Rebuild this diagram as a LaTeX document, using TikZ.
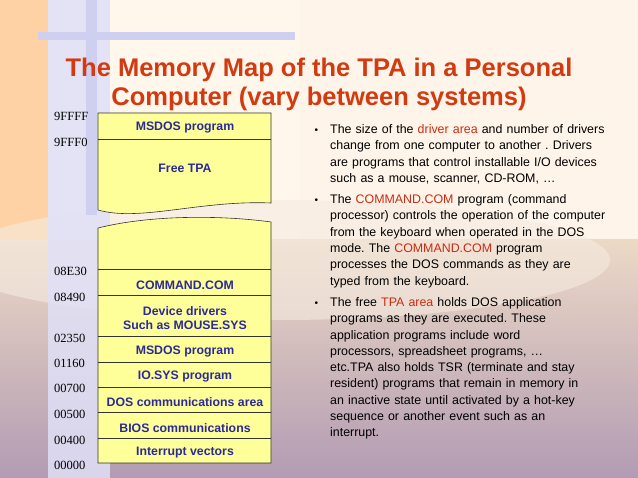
\documentclass[tikz,border=0pt]{standalone}
\usepackage{fontspec}
\setmainfont{Liberation Sans}
\newfontfamily\tms{Liberation Serif}
\definecolor{ttl}{HTML}{D23A10}
\definecolor{blu}{HTML}{2A2A9A}
\definecolor{hl}{HTML}{CC2A10}
\definecolor{boxy}{HTML}{FFFF99}
\begin{document}
\frenchspacing
\begin{tikzpicture}[x=1pt,y=-1pt,
  lab/.style={font=\bfseries\fontsize{12.3}{14.5}\selectfont,text=blu,align=center},
  adr/.style={font=\tms\fontsize{12.5}{13}\selectfont,anchor=west,inner sep=0pt},
  mem/.style={draw=black!80,fill=boxy,line width=0.6pt}]
\useasboundingbox (0,0) rectangle (638,478);
% background
\fill[white!85!orange!50] (0,0) rectangle (638,250);
\fill[orange!35!white] (0,0) rectangle (48,250);
\fill[white!75!orange!35] (300,0) rectangle (638,250);
\shade[top color=white!50!brown!60,bottom color=violet!30!gray!60] (0,240) rectangle (638,478);
\fill[white!60!brown!40,opacity=.6] (280,260) ellipse (330 and 60);
\fill[gray!40!blue!15,opacity=.85] (48,0) rectangle (110,478);
\fill[gray!50!blue!25] (86,0) rectangle (97,215);
\fill[gray!50!blue!25] (38,32) rectangle (295,40);
% title
\node[font=\bfseries\fontsize{25.5}{29}\selectfont,text=ttl,align=center] (title) at (319,84) {The Memory Map of the TPA in a Personal\\Computer (vary between systems)};
% memory map
\draw[mem] (98,210) .. controls (140,222) and (200,200) .. (271,203) -- (271,113) -- (98,113) -- cycle;
\draw[mem] (98,228) .. controls (150,215) and (220,215) .. (271,222) -- (271,463) -- (98,463) -- cycle;
\foreach \y in {139,269,295,336,362,387,412,438} \draw[black!80,line width=0.6pt] (98,\y) -- (271,\y);
\node[lab] (m1) at (185,128) {MSDOS program};
\node[lab] (m2) at (185,168) {Free TPA};
\node[lab] (m3) at (185,285) {COMMAND.COM};
\node[lab] (m4) at (185,318) {Device drivers\\Such as MOUSE.SYS};
\node[lab] (m5) at (185,352) {MSDOS program};
\node[lab] (m6) at (185,377) {IO.SYS program};
\node[lab] (m7) at (185,402) {DOS communications area};
\node[lab] (m8) at (185,428) {BIOS communications};
\node[lab] (m9) at (185,453) {Interrupt vectors};
\node[adr] (a1) at (54,116) {9FFFF};
\node[adr] (a2) at (54,142) {9FFF0};
\node[adr] (a3) at (54,271) {08E30};
\node[adr] (a4) at (54,297) {08490};
\node[adr] (a5) at (54,338) {02350};
\node[adr] (a6) at (54,363) {01160};
\node[adr] (a7) at (54,388) {00700};
\node[adr] (a8) at (54,414) {00500};
\node[adr] (a9) at (54,440) {00400};
\node[adr] (a10) at (54,465) {00000};
% right text
\node[anchor=north west,text width=320,align=left,font=\fontsize{12.4}{16.3}\selectfont,inner sep=0pt] (txt) at (309,117) {%
\begin{list}{\fontsize{10}{10}\selectfont\textbullet}{\leftmargin=21pt\labelsep=12pt\itemsep=5pt\topsep=0pt\parsep=0pt}
\item The size of the \textcolor{hl}{driver area} and number of drivers\\ change from one computer to another . Drivers\\ are programs that control installable I/O devices\\ such as a mouse, scanner, CD-ROM, \dots
\item The \textcolor{hl}{COMMAND.COM} program (command\\ processor) controls the operation of the computer\\ from the keyboard when operated in the DOS\\ mode. The \textcolor{hl}{COMMAND.COM} program\\ processes the DOS commands as they are\\ typed from the keyboard.
\item The free \textcolor{hl}{TPA area} holds DOS application\\ programs as they are executed. These\\ application programs include word\\ processors, spreadsheet programs, \dots\\ etc.TPA also holds TSR (terminate and stay\\ resident) programs that remain in memory in\\ an inactive state until activated by a hot-key\\ sequence or another event such as an\\ interrupt.
\end{list}};
\end{tikzpicture}
\end{document}
